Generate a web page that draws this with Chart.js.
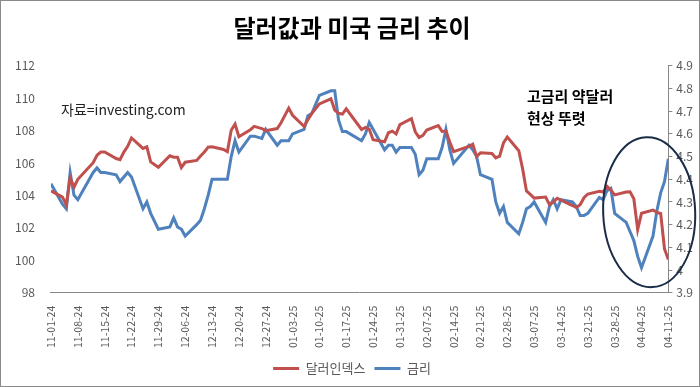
<!DOCTYPE html>
<html>
<head>
<meta charset="utf-8">
<script src="https://cdn.jsdelivr.net/npm/chart.js@4"></script>
<style>
  html, body { margin: 0; padding: 0; background: #fff; }
  #wrap { width: 700px; height: 387px; box-sizing: border-box; border: 1px solid #8a8a8a; position: relative; }
</style>
</head>
<body>
<div id="wrap"><canvas id="myChart"></canvas></div>
<script>
// trading days (holidays left out)
const dates = [
  "2024-11-01","2024-11-04","2024-11-05","2024-11-06","2024-11-07","2024-11-08","2024-11-12","2024-11-13","2024-11-14","2024-11-15",
  "2024-11-18","2024-11-19","2024-11-20","2024-11-21","2024-11-22","2024-11-25","2024-11-26","2024-11-27","2024-11-29",
  "2024-12-02","2024-12-03","2024-12-04","2024-12-05","2024-12-06","2024-12-09","2024-12-10","2024-12-11","2024-12-12","2024-12-13",
  "2024-12-16","2024-12-17","2024-12-18","2024-12-19","2024-12-20","2024-12-23","2024-12-24","2024-12-26","2024-12-27","2024-12-30","2024-12-31",
  "2025-01-02","2025-01-03","2025-01-06","2025-01-07","2025-01-08","2025-01-10","2025-01-13","2025-01-14","2025-01-15","2025-01-16","2025-01-17",
  "2025-01-21","2025-01-22","2025-01-23","2025-01-24","2025-01-27","2025-01-28","2025-01-29","2025-01-30","2025-01-31",
  "2025-02-03","2025-02-04","2025-02-05","2025-02-06","2025-02-07","2025-02-10","2025-02-11","2025-02-12","2025-02-13","2025-02-14",
  "2025-02-18","2025-02-19","2025-02-20","2025-02-21","2025-02-24","2025-02-25","2025-02-26","2025-02-27","2025-02-28",
  "2025-03-03","2025-03-04","2025-03-05","2025-03-06","2025-03-07","2025-03-10","2025-03-11","2025-03-12","2025-03-13","2025-03-14",
  "2025-03-17","2025-03-18","2025-03-19","2025-03-20","2025-03-21","2025-03-24","2025-03-25","2025-03-26","2025-03-27","2025-03-28","2025-03-31",
  "2025-04-01","2025-04-02","2025-04-03","2025-04-04","2025-04-07","2025-04-08","2025-04-09","2025-04-10","2025-04-11"
];
const dollarIndex = [
  104.28,103.90,103.43,105.09,104.51,105.00,106.02,106.48,106.69,106.69,
  106.28,106.21,106.68,107.03,107.55,106.90,107.00,106.07,105.74,
  106.45,106.36,106.36,105.72,106.05,106.16,106.43,106.68,106.98,107.00,
  106.84,106.70,108.02,108.40,107.62,108.06,108.26,108.13,108.00,108.13,108.49,
  109.39,108.95,108.26,108.67,109.05,109.65,109.96,109.27,109.07,109.02,109.35,
  108.07,108.20,108.08,107.44,107.31,107.87,107.97,107.80,108.37,
  108.74,107.93,107.58,107.71,108.04,108.31,107.95,107.97,107.30,106.71,
  107.03,107.16,106.40,106.63,106.59,106.32,106.43,107.24,107.61,
  106.76,105.64,104.28,104.07,103.84,103.90,103.44,103.59,103.83,103.72,
  103.38,103.26,103.43,103.86,104.09,104.26,104.21,104.56,104.33,104.04,104.21,
  104.23,103.80,101.90,102.90,103.10,102.96,102.89,100.70,100.05
];
const rates = [
  4.38,4.29,4.27,4.43,4.33,4.31,4.43,4.45,4.43,4.43,
  4.42,4.39,4.41,4.43,4.41,4.27,4.30,4.25,4.18,
  4.19,4.23,4.19,4.18,4.15,4.20,4.22,4.27,4.33,4.40,
  4.40,4.40,4.50,4.57,4.52,4.59,4.59,4.58,4.62,4.55,4.57,
  4.57,4.60,4.62,4.68,4.69,4.77,4.79,4.79,4.66,4.61,4.61,
  4.57,4.60,4.65,4.62,4.53,4.55,4.55,4.52,4.54,
  4.54,4.51,4.42,4.44,4.49,4.49,4.54,4.62,4.53,4.47,
  4.55,4.53,4.50,4.42,4.40,4.30,4.25,4.28,4.21,
  4.16,4.21,4.27,4.28,4.30,4.21,4.28,4.31,4.27,4.31,
  4.30,4.28,4.24,4.24,4.25,4.32,4.31,4.35,4.36,4.25,4.21,
  4.17,4.13,4.06,4.01,4.15,4.26,4.34,4.39,4.49
];
const weekLabels = [
  "11-01-24","11-08-24","11-15-24","11-22-24","11-29-24","12-06-24","12-13-24","12-20-24","12-27-24",
  "01-03-25","01-10-25","01-17-25","01-24-25","01-31-25","02-07-25","02-14-25","02-21-25","02-28-25",
  "03-07-25","03-14-25","03-21-25","03-28-25","04-04-25","04-11-25"
];
const seriesNames = ["달러인덱스", "금리"];

const start = Date.UTC(2024, 10, 1);
function dayOf(s) {
  const p = s.split("-");
  return Math.round((Date.UTC(+p[0], +p[1] - 1, +p[2]) - start) / 86400000);
}
const days = dates.map(dayOf);

const gray = "#595959";
const axisGray = "#888888";
Chart.defaults.font.family = "'Noto Sans CJK KR', 'Noto Sans', sans-serif";
Chart.defaults.color = gray;

// text notes + circle drawn on top of the lines
const notes = {
  id: "notes",
  afterDraw(chart) {
    const ctx = chart.ctx;
    const x = chart.scales.x, y1 = chart.scales.y1;
    ctx.save();
    ctx.fillStyle = "#222";
    ctx.textBaseline = "alphabetic";
    ctx.font = "14px 'Noto Sans CJK KR'";
    ctx.fillText("자료=investing.com", 60, 114);
    ctx.fillStyle = "#000";
    ctx.font = "bold 15px 'Noto Sans CJK KR'";
    ctx.fillText("고금리 약달러", 526, 101);
    ctx.fillText("현상 뚜렷", 526, 123);
    ctx.strokeStyle = "#1b2c48";
    ctx.lineWidth = 2;
    ctx.beginPath();
    ctx.ellipse(x.getPixelForValue(156), y1.getPixelForValue(4.255), 46, 75, -0.04, 0, Math.PI * 2);
    ctx.stroke();
    ctx.restore();
  }
};

new Chart("myChart", {
  type: "line",
  data: {
    datasets: [{
      label: seriesNames[0],
      data: days.map((d, i) => ({ x: d, y: dollarIndex[i] })),
      borderColor: "#C0504D",
      backgroundColor: "#C0504D",
      borderWidth: 3,
      pointRadius: 0,
      yAxisID: "y"
    }, {
      label: seriesNames[1],
      data: days.map((d, i) => ({ x: d, y: rates[i] })),
      borderColor: "#4F81BD",
      backgroundColor: "#4F81BD",
      borderWidth: 3,
      pointRadius: 0,
      yAxisID: "y1"
    }]
  },
  options: {
    responsive: true,
    maintainAspectRatio: false,
    animation: false,
    layout: { padding: { left: 6, right: 2, top: 0, bottom: 1 } },
    plugins: {
      title: {
        display: true,
        text: "달러값과 미국 금리 추이",
        color: "#000",
        font: { size: 24, weight: "bold" },
        padding: { top: 12, bottom: 24 }
      },
      legend: {
        position: "bottom",
        labels: {
          usePointStyle: true,
          pointStyle: "line",
          pointStyleWidth: 26,
          font: { size: 13 },
          color: gray,
          padding: 9
        }
      },
      tooltip: { enabled: false }
    },
    scales: {
      x: {
        type: "linear",
        min: 0,
        max: 161,
        grid: { display: false },
        border: { display: true, color: axisGray },
        ticks: {
          stepSize: 7,
          autoSkip: false,
          minRotation: 90,
          maxRotation: 90,
          font: { size: 10.5 },
          color: gray,
          padding: 5,
          callback: v => weekLabels[v / 7]
        }
      },
      y: {
        position: "left",
        min: 98,
        max: 112,
        grid: { display: false },
        border: { display: false },
        ticks: { stepSize: 2, font: { size: 12 }, color: gray, padding: 8 }
      },
      y1: {
        position: "right",
        min: 3.9,
        max: 4.9,
        grid: { display: true, drawOnChartArea: false, color: axisGray, tickLength: 4 },
        border: { display: true, color: axisGray },
        ticks: {
          stepSize: 0.1,
          font: { size: 12 },
          color: gray,
          padding: 4,
          callback: v => String(Number(v.toFixed(1)))
        }
      }
    }
  },
  plugins: [notes]
});
</script>
</body>
</html>
